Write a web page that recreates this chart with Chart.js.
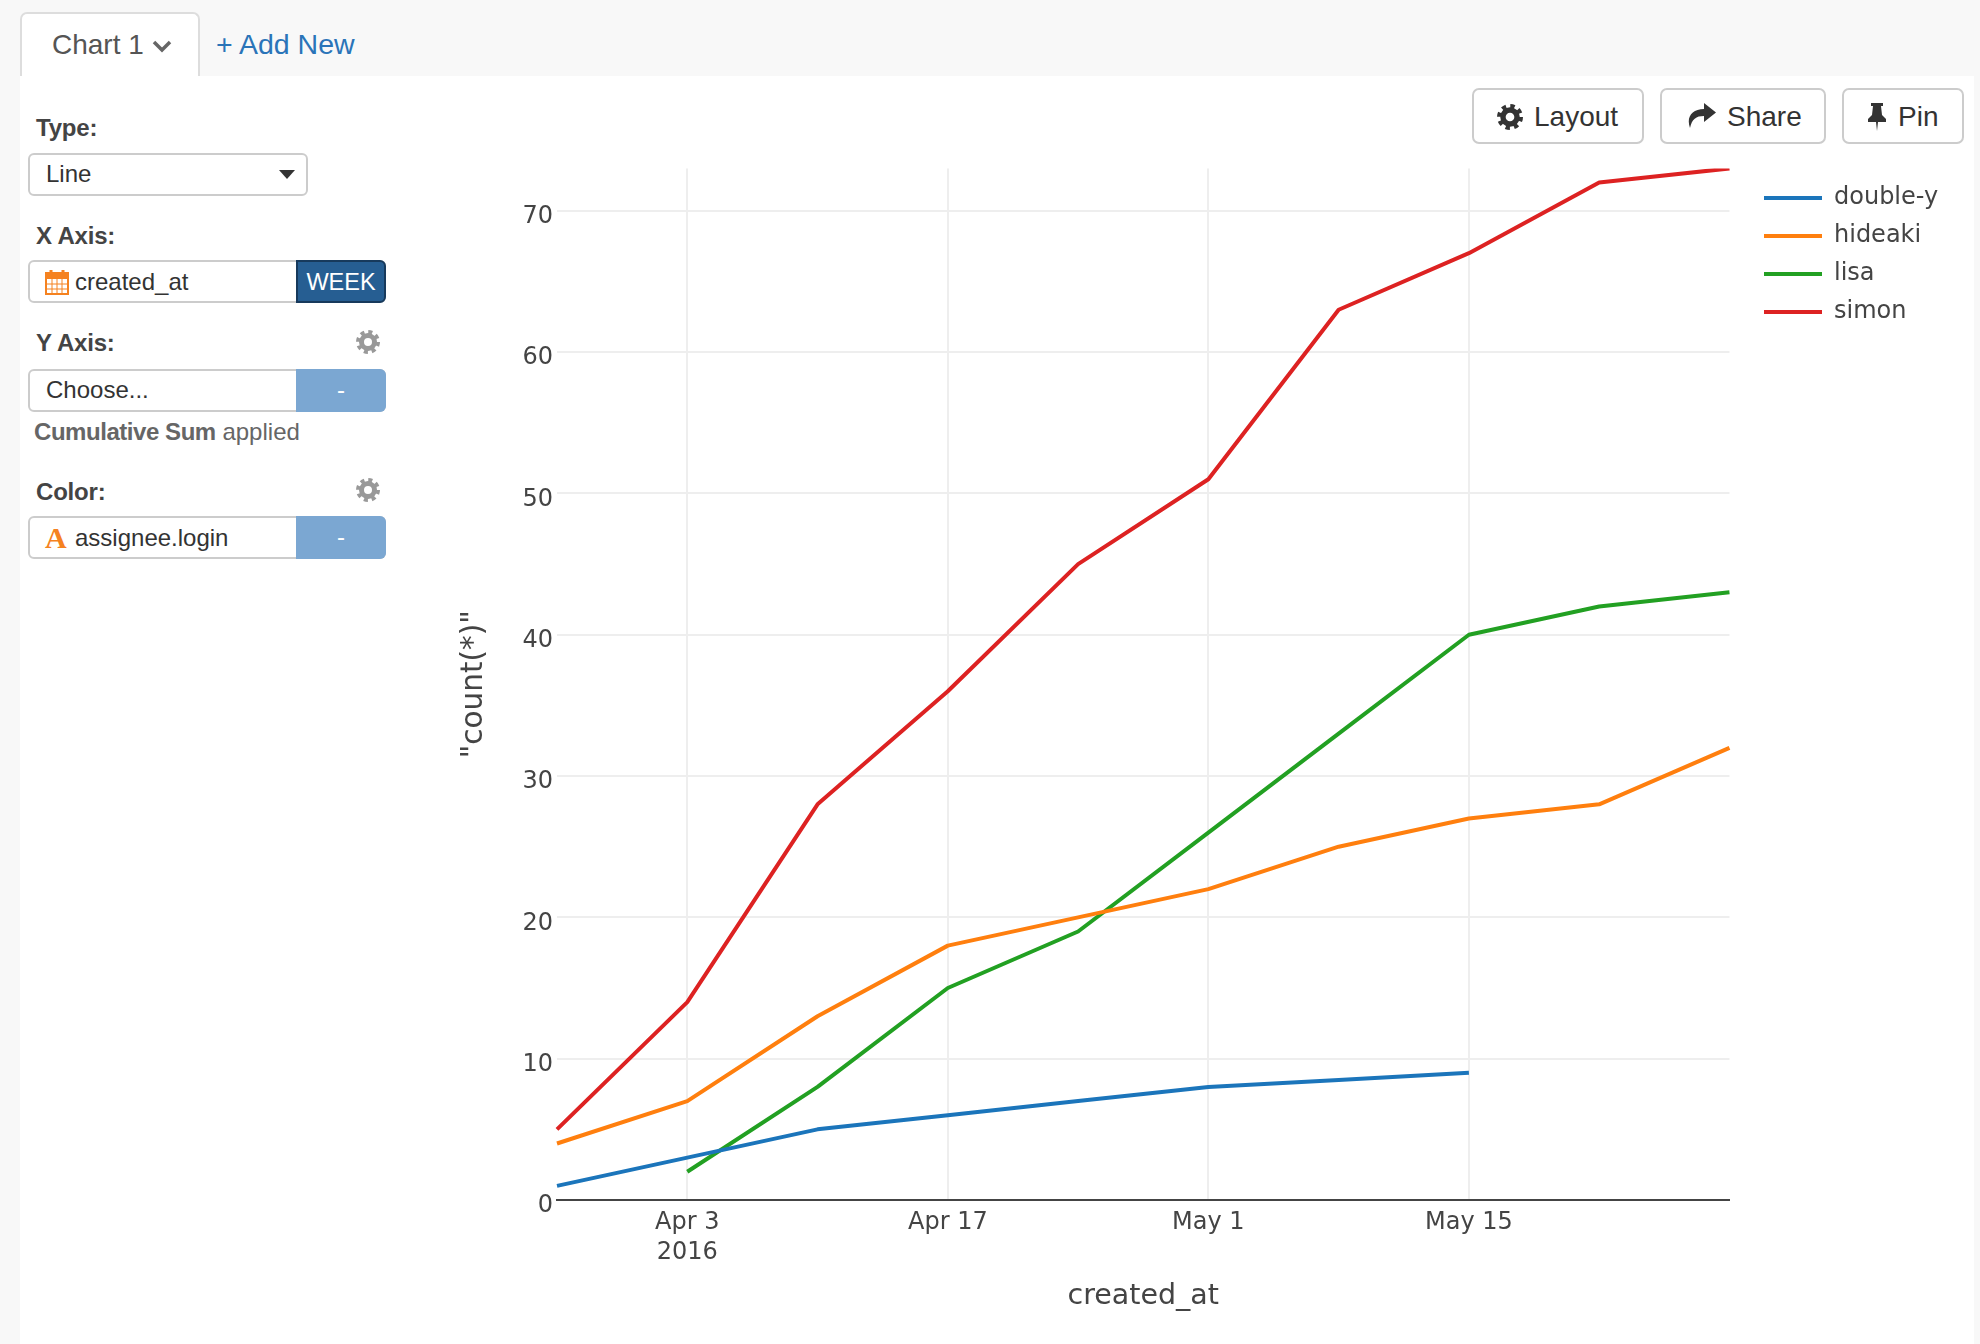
<!DOCTYPE html>
<html lang="en">
<head>
<meta charset="UTF-8">
<title>Chart 1</title>
<script src="https://cdn.jsdelivr.net/npm/chart.js"></script>
<style>
    html, body { margin: 0; padding: 0; }
    body { width: 1980px; height: 1344px; background: #f8f8f8; position: relative; overflow: hidden;
           font-family: "Liberation Sans", Arial, sans-serif; color: #444; }
    .abs, .panel, .tab, .label, .field, .btn, .side, .gear { position: absolute; box-sizing: border-box; }
    .panel { left: 20px; top: 76px; width: 1954px; height: 1268px; background: #fff; }
    .tab { left: 20px; top: 12px; width: 180px; height: 64px; background: #fff; border: 2px solid #ddd;
           border-bottom: none; border-radius: 7px 7px 0 0; font-size: 28px; line-height: 62px; padding-left: 30px; color: #555; }
    .add { left: 216px; top: 12px; font-size: 28.5px; line-height: 64px; color: #2a74b8; }
    .label { left: 36px; font-size: 24px; font-weight: bold; color: #444; line-height: 30px; letter-spacing: -0.2px; }
    .field { left: 28px; width: 358px; height: 43px; background: #fff; border: 2px solid #ccc; border-radius: 6px;
             font-size: 24px; line-height: 39px; color: #333; padding-left: 16px; }
    .side { left: 296px; width: 90px; height: 43px; border-radius: 0 6px 6px 0; background: #7ba7d2; color: #fff;
            font-size: 24px; line-height: 41px; text-align: center; }
    .btn { top: 88px; height: 56px; background: #fff; border: 2px solid #ccc; border-radius: 7px; font-size: 28px;
           line-height: 54px; color: #333; white-space: nowrap; }
    .btn svg { position: absolute; top: 12px; }
    .btn span { position: absolute; top: 0; }
    .gear { left: 356px; width: 24px; height: 24px; }
    #chart { position: absolute; left: 440px; top: 150px; }
</style>
</head>
<body>
<div class="panel"></div>
<div class="tab">Chart 1
    <svg class="abs" style="left:130px;top:25px" width="20" height="14" viewBox="0 0 20 14"><path d="M2 3 L10 11 L18 3" fill="none" stroke="#666" stroke-width="3.5"/></svg>
</div>
<div class="abs add">+ Add New</div>

<div class="label" style="top:113px">Type:</div>
<div class="field" style="top:153px;width:280px;line-height:37px">Line
    <svg class="abs" style="left:249px;top:15px" width="16" height="9"><path d="M0 0 H16 L8 9 Z" fill="#333"/></svg>
</div>

<div class="label" style="top:221px">X Axis:</div>
<div class="field" style="top:260px;padding-left:45px">created_at
    <svg class="abs" style="left:15px;top:7px" width="24" height="26" viewBox="0 0 24 26">
        <rect x="1" y="4" width="22" height="21" fill="none" stroke="#f58220" stroke-width="2"/>
        <rect x="1" y="4" width="22" height="6" fill="#f58220"/>
        <path d="M7 10 V25 M12 10 V25 M17 10 V25 M1 15 H23 M1 20 H23" stroke="#f58220" stroke-width="1"/>
        <path d="M6 1 V6 M18 1 V6" stroke="#f58220" stroke-width="3"/>
    </svg>
</div>
<div class="side" style="top:260px;background:#265e92;border:2px solid #173a5c;line-height:40px;font-size:23.5px">WEEK</div>

<div class="label" style="top:328px">Y Axis:</div>
<svg class="gear" style="top:330px" viewBox="0 0 24 24"><circle cx="12" cy="12" r="6.5" fill="none" stroke="#999" stroke-width="5"/><circle cx="12" cy="12" r="10" fill="none" stroke="#999" stroke-width="4" stroke-dasharray="4 3.85"/></svg>
<div class="field" style="top:369px;line-height:37px">Choose...</div>
<div class="side" style="top:369px">-</div>
<div class="abs" style="left:34px;top:417px;font-size:24px;line-height:30px;color:#666"><b style="letter-spacing:-0.45px">Cumulative Sum</b> applied</div>

<div class="label" style="top:477px">Color:</div>
<svg class="gear" style="top:478px" viewBox="0 0 24 24"><circle cx="12" cy="12" r="6.5" fill="none" stroke="#999" stroke-width="5"/><circle cx="12" cy="12" r="10" fill="none" stroke="#999" stroke-width="4" stroke-dasharray="4 3.85"/></svg>
<div class="field" style="top:516px;padding-left:45px">assignee.login
    <span class="abs" style="left:15px;top:0;font-family:'Liberation Serif';font-size:30px;font-weight:bold;color:#f58220">A</span>
</div>
<div class="side" style="top:516px">-</div>

<div class="btn" style="left:1472px;width:172px">
    <svg style="left:23px;top:14px" width="26" height="26" viewBox="0 0 24 24"><circle cx="12" cy="12" r="6.5" fill="none" stroke="#333" stroke-width="5"/><circle cx="12" cy="12" r="10" fill="none" stroke="#333" stroke-width="4" stroke-dasharray="4 3.85"/></svg>
    <span style="left:60px">Layout</span>
</div>
<div class="btn" style="left:1660px;width:166px">
    <svg style="left:25px;top:13px" width="30" height="26" viewBox="0 0 30 26"><path d="M17 0 L29 9.5 L17 19 V13 C9 13 5 16 3 25 C-1 14 5 6 17 6 Z" fill="#333"/></svg>
    <span style="left:65px">Share</span>
</div>
<div class="btn" style="left:1842px;width:122px">
    <svg style="left:23px;top:12px" width="20" height="30" viewBox="0 0 20 30"><path d="M4 1 H16 V4 H14 L15 13 L19 17 V20 H11 L10 29 L9 20 H1 V17 L5 13 L6 4 H4 Z" fill="#333"/></svg>
    <span style="left:54px">Pin</span>
</div>

<canvas id="chart" width="1530" height="1190"></canvas>

<script>
    const weeks = ["Mar 27", "Apr 3", "Apr 10", "Apr 17", "Apr 24", "May 1", "May 8", "May 15", "May 22", "May 29"];
    const xTickLabels = ["", ["Apr 3", "2016"], "", "Apr 17", "", "May 1", "", "May 15", "", ""];
    const yTicks = [0, 10, 20, 30, 40, 50, 60, 70];

    const doubleY = [1, 3, 5, 6, 7, 8, 8.5, 9, null, null];
    const hideaki = [4, 7, 13, 18, 20, 22, 25, 27, 28, 32];
    const lisa = [null, 2, 8, 15, 19, 26, 33, 40, 42, 43];
    const simon = [5, 14, 28, 36, 45, 51, 63, 67, 72, 73];

    const textColor = "#444";
    const gridColor = "#eeeeee";

    function line(label, data, color) {
        return { label: label, data: data, borderColor: color, backgroundColor: color, borderWidth: 4,
                 pointRadius: 0, tension: 0, borderJoinStyle: "round" };
    }

    // the legend sits a bit away from the plot, layout would glue it to the edge
    const pinLegend = {
        id: "pinLegend",
        afterLayout(chart) {
            const l = chart.legend;
            const w = l.right - l.left;
            l.left = 1310;
            l.right = 1310 + w;
            l.top = 22;
        }
    };

    new Chart(document.getElementById("chart").getContext("2d"), {
        type: "line",
        data: {
            labels: weeks,
            datasets: [
                line("double-y", doubleY, "#1b75bb"),
                line("hideaki", hideaki, "#ff7f0e"),
                line("lisa", lisa, "#22a022"),
                line("simon", simon, "#dd2222")
            ]
        },
        plugins: [pinLegend],
        options: {
            responsive: false,
            animation: false,
            devicePixelRatio: 1,
            layout: { padding: { top: 17, right: 42.3, left: 0, bottom: 0 } },
            plugins: {
                tooltip: { enabled: false },
                legend: {
                    position: "right",
                    align: "start",
                    labels: {
                        color: textColor,
                        boxWidth: 58,
                        boxHeight: 4,
                        padding: 14,
                        font: { family: "DejaVu Sans", size: 24 },
                        generateLabels: chart => Chart.defaults.plugins.legend.labels.generateLabels(chart)
                            .map(item => ({ ...item, lineWidth: 0 }))
                    }
                }
            },
            scales: {
                x: {
                    type: "category",
                    offset: false,
                    afterFit: scale => { scale.height = 140; },
                    border: { color: textColor, width: 2 },
                    grid: {
                        lineWidth: 2,
                        drawTicks: false,
                        color: ctx => xTickLabels[ctx.index] ? gridColor : "transparent"
                    },
                    ticks: {
                        autoSkip: false,
                        maxRotation: 0,
                        padding: 8,
                        color: textColor,
                        font: { family: "DejaVu Sans", size: 24, lineHeight: 1.25 },
                        callback: (value, index) => xTickLabels[index]
                    },
                    title: {
                        display: true,
                        text: "created_at",
                        color: textColor,
                        padding: { top: 0, bottom: 26 },
                        font: { family: "DejaVu Sans", size: 28.5 }
                    }
                },
                y: {
                    min: 0,
                    max: 73,
                    afterFit: scale => { scale.width = 117; },
                    afterBuildTicks: scale => { scale.ticks = yTicks.map(v => ({ value: v })); },
                    border: { display: false },
                    grid: { lineWidth: 2, drawTicks: false, color: gridColor },
                    ticks: {
                        padding: 4,
                        labelOffset: 6,
                        color: textColor,
                        font: { family: "DejaVu Sans", size: 24 }
                    },
                    title: {
                        display: true,
                        text: "\"count(*)\"",
                        color: textColor,
                        padding: { top: 16.5, bottom: 0 },
                        font: { family: "DejaVu Sans", size: 29.5 }
                    }
                }
            }
        }
    });
</script>
</body>
</html>
